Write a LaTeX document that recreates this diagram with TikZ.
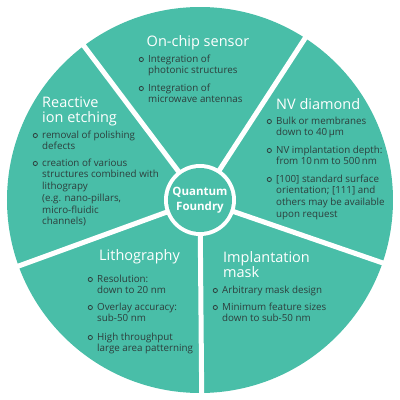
\documentclass[tikz,border=0pt]{standalone}
\usepackage{fontspec}
\setmainfont{Open Sans}

\definecolor{qteal}{RGB}{73,190,168}
\definecolor{qtext}{RGB}{45,62,60}

\tikzset{
  sectitle/.style={text=white, font=\fontsize{14.5}{15}\selectfont, align=left, inner sep=0pt},
  itemtext/.style={text=qtext, font=\fontsize{9.8}{11.7}\selectfont, align=left, inner sep=0pt, anchor=north west},
  bulletmark/.style={draw=qtext, line width=0.8pt},
  spoke/.style={white, line width=5pt}
}

% one bullet point: name, position, text
\newcommand\bitem[3]{%
  \node[itemtext] (#1) at (#2) {#3};
  \draw[bulletmark] ([xshift=-6.7pt,yshift=-5pt]#1.north west) circle (2.1pt);
}

\begin{document}
\begin{tikzpicture}[x=1pt,y=1pt]
   \useasboundingbox (-200,-200) rectangle (200,200);

   \fill[qteal] (0,0) circle (193);
   \foreach \a in {-89.5,-19,57,127,200}
      \draw[spoke] (0,0) -- (\a:200);
   \fill[white] (0,0) circle (36);
   \fill[qteal] (0,0) circle (32);
   \node[text=white, font=\bfseries\fontsize{11.5}{15}\selectfont, align=center] (core) at (0,-0.5) {Quantum\\Foundry};

   % on-chip sensor
   \node[sectitle] (chip) at (-2,157) {On-chip sensor};
   \bitem{chip1}{-52,145.5}{Integration of\\photonic structures}
   \bitem{chip2}{-52,116.5}{Integration of\\microwave antennas}

   % nv diamond
   \node[sectitle, anchor=west] (nv) at (76,96) {NV diamond};
   \bitem{nv1}{76,83.5}{Bulk or membranes\\down to 40\,µm}
   \bitem{nv2}{76,54.5}{NV implantation depth:\\from 10\,nm to 500\,nm}
   \bitem{nv3}{76,25.5}{[100] standard surface\\orientation; [111] and\\others may be available\\upon request}

   % reactive ion etching
   \node[sectitle, anchor=west] (rie) at (-158,88.5) {Reactive\\ion etching};
   \bitem{rie1}{-158,69.5}{removal of polishing\\defects}
   \bitem{rie2}{-158,41.5}{creation of various\\structures combined with\\lithograpy\\(e.g. nano-pillars,\\micro-fluidic\\channels)}

   % lithography
   \node[sectitle, anchor=west] (litho) at (-101,-57) {Lithography};
   \bitem{litho1}{-103,-74.5}{Resolution:\\down to 20 nm}
   \bitem{litho2}{-103,-102.5}{Overlay accuracy:\\sub-50 nm}
   \bitem{litho3}{-103,-132.5}{High throughput\\large area patterning}

   % implantation mask
   \node[sectitle, anchor=west] (mask) at (23,-64.5) {Implantation\\mask};
   \bitem{mask1}{22,-85.5}{Arbitrary mask design}
   \bitem{mask2}{22,-102.5}{Minimum feature sizes\\down to sub-50 nm}
\end{tikzpicture}
\end{document}
